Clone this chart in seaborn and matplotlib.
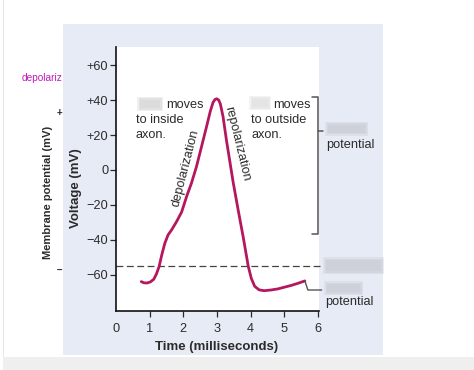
import matplotlib
matplotlib.use("Agg")
import matplotlib.pyplot as plt
from matplotlib.patches import Rectangle
import seaborn as sns
import pandas as pd

# ---- data ----
time_ms = [0.75, 0.83, 0.92, 1.02, 1.12, 1.20, 1.28, 1.36, 1.45, 1.55, 1.65,
           1.80, 1.95, 2.10, 2.24, 2.39, 2.54, 2.69, 2.80, 2.88, 2.94, 2.99,
           3.05, 3.10, 3.18, 3.28, 3.48, 3.63, 3.78, 3.93, 4.02, 4.12, 4.25,
           4.40, 4.60, 4.80, 5.00, 5.20, 5.40, 5.61]
voltage_mv = [-63.8, -64.5, -64.6, -64.0, -62.5, -59.5, -55.2, -48.5, -41.9,
              -37.0, -34.3, -29.5, -24.0, -15.0, -7.6, 1.9, 13.3, 24.8, 33.5,
              38.5, 40.3, 40.7, 40.0, 37.7, 30.5, 17.1, -7.0, -23.0, -38.5,
              -55.2, -62.0, -66.5, -68.5, -69.0, -68.6, -68.0, -67.0, -66.0,
              -64.8, -63.4]
threshold_mv = -55
y_ticks = [60, 40, 20, 0, -20, -40, -60]
y_tick_labels = ["+60", "+40", "+20", "0", "\u221220", "\u221240", "\u221260"]
x_ticks = [0, 1, 2, 3, 4, 5, 6]
x_tick_labels = ["0", "1", "2", "3", "4", "5", "6"]

df = pd.DataFrame({"t": time_ms, "v": voltage_mv})

sns.set_style("ticks")
plt.rcParams["font.family"] = ["Liberation Sans", "DejaVu Sans"]

W, H = 474, 370
fig = plt.figure(figsize=(W / 100, H / 100), dpi=100)
fig.patch.set_facecolor("white")


def P(x, y):
    return (x / W, 1 - y / H)


def rect_px(x0, y0, x1, y1, **kw):
    r = Rectangle(P(x0, y1), (x1 - x0) / W, (y1 - y0) / H,
                  transform=fig.transFigure, **kw)
    fig.patches.append(r)
    return r


# background panels
rect_px(63, 24, 383, 355, facecolor="#e7ebf6", edgecolor="none", zorder=-2)
rect_px(3, 357, 474, 370, facecolor="#efefef", edgecolor="none", zorder=-2)
rect_px(2.5, 0, 3.5, 357, facecolor="#e6e6e6", edgecolor="none", zorder=-2)

TXT = "#2b2b2b"

ax = fig.add_axes([116 / W, 1 - 311 / H, 203 / W, 264 / H])
ax.set_facecolor("white")
sns.lineplot(data=df, x="t", y="v", ax=ax, color="#b5175f", lw=2.0,
             sort=False, estimator=None)
ax.set_xlim(0, 6.03)
ax.set_ylim(-80.6, 70.3)
ax.set_xticks(x_ticks)
ax.set_xticklabels(x_tick_labels)
ax.set_yticks(y_ticks)
ax.set_yticklabels(y_tick_labels)
ax.set_xlabel("")
ax.set_ylabel("")
for s in ["top", "right"]:
    ax.spines[s].set_visible(False)
for s in ["left", "bottom"]:
    ax.spines[s].set_color("#111111")
    ax.spines[s].set_linewidth(1.2)
ax.tick_params(axis="y", direction="out", length=4, width=0.9, pad=1.5,
               labelsize=9.2, colors=TXT)
ax.tick_params(axis="x", direction="out", length=4.5, width=0.9, pad=4,
               labelsize=9.2, colors=TXT)
ax.xaxis.get_major_ticks()[0].tick1line.set_visible(False)

# threshold dashed line
ax.plot([0, 6.12], [threshold_mv, threshold_mv], color="#444444", lw=0.9,
        ls=(0, (5.5, 2.8)), clip_on=False, zorder=1)

# bracket on the right (action potential)
bc = "#555555"
ax.plot([5.82, 6.0, 6.0, 5.82], [41.7, 41.7, -36.6, -36.6], color=bc, lw=1.1,
        clip_on=False)
ax.plot([6.0, 6.15], [22.3, 22.3], color=bc, lw=1.1, clip_on=False)
# resting potential leader
ax.plot([5.61, 5.70, 6.11], [-63.4, -68.6, -68.6], color=bc, lw=1.0,
        clip_on=False)

# rotated labels along the curve
ax.text(2.07, 1.1, "depolarization", rotation=75.6, ha="center", va="center",
        rotation_mode="anchor", fontsize=9.2, color=TXT)
ax.text(3.60, 14.9, "repolarization", rotation=-76.3, ha="center",
        va="center", rotation_mode="anchor", fontsize=9.2, color=TXT)


def ftext(x, y, s, **kw):
    kw.setdefault("color", TXT)
    fig.text(*P(x, y), s, **kw)


def blur_box(x0, y0, x1, y1, color="#c9ccd3"):
    rect_px(x0, y0, x1, y1, facecolor=color, edgecolor="none", alpha=0.35,
            zorder=5)
    rect_px(x0 + 1.5, y0 + 1.5, x1 - 1.5, y1 - 1.5, facecolor=color,
            edgecolor="none", alpha=0.45, zorder=5)
    rect_px(x0 + 3, y0 + 3, x1 - 3, y1 - 3, facecolor=color,
            edgecolor="none", alpha=0.45, zorder=5)


# inside / outside annotations
blur_box(137, 97, 163, 111, "#d3d3d3")
ftext(166, 105, "moves", fontsize=9.2, va="center", ha="left")
ftext(136, 120, "to inside", fontsize=9.2, va="center", ha="left")
ftext(136, 135, "axon.", fontsize=9.2, va="center", ha="left")

blur_box(249, 96, 271, 110, "#dedede")
ftext(273, 105, "moves", fontsize=9.2, va="center", ha="left")
ftext(251, 120, "to outside", fontsize=9.2, va="center", ha="left")
ftext(251, 135, "axon.", fontsize=9.2, va="center", ha="left")

# right side labels
blur_box(325, 122, 368, 136)
ftext(326, 145, "potential", fontsize=9.2, va="center", ha="left")
blur_box(323, 257, 384, 274)
blur_box(324, 281, 363, 295)
ftext(325, 302, "potential", fontsize=9.2, va="center", ha="left")

# axis titles
ftext(217, 347, "Time (milliseconds)", fontsize=9.5, fontweight="bold",
      ha="center", va="center")
ftext(76, 188, "Voltage (mV)", fontsize=9.5, fontweight="bold",
      ha="center", va="center", rotation=90)
ftext(48, 192, "Membrane potential (mV)", fontsize=8, fontweight="bold",
      ha="center", va="center", rotation=90)
ftext(59, 113, "+", fontsize=7, fontweight="bold", ha="center", va="center")
ftext(59, 271, "\u2013", fontsize=7, fontweight="bold", ha="center",
      va="center")
ftext(22, 78, "depolariz", fontsize=7.3, color="#c21bb8", ha="left",
      va="center")

fig.savefig("out.png", dpi=100, facecolor="white")
